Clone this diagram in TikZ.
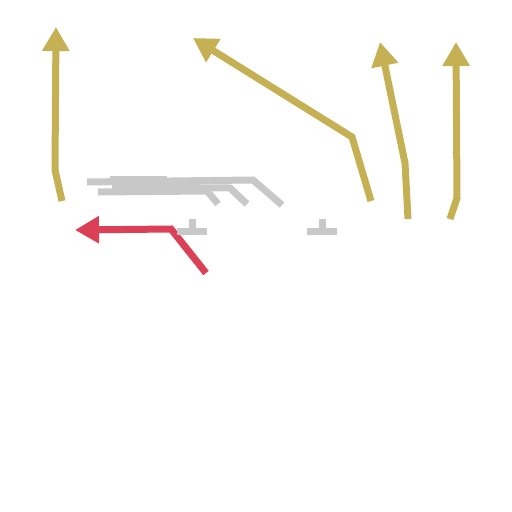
\documentclass[tikz,border=0pt]{standalone}
\usepackage{xcolor}
\usetikzlibrary{arrows.meta}

\begin{document}
\begin{tikzpicture}[x=1pt,y=-1pt]
    \definecolor{mygold}{RGB}{197,176,84}
    \definecolor{myred}{RGB}{220,64,86}
    \definecolor{mygray}{RGB}{200,200,200}

    \tikzstyle{route}=[draw=mygold,line width=7pt,-{Triangle[length=24pt,width=26pt]}]  % 路线
    \tikzstyle{hot}=[draw=myred,line width=7pt,-{Triangle[length=24pt,width=26pt]}]
    \tikzstyle{block}=[draw=mygray,line width=7pt]  % 阻挡线
    \tikzstyle{point}=[coordinate]

    \useasboundingbox (0,0) rectangle (512,512);

    % 定义点
    \coordinate (w1) at (62,201);
    \coordinate (w1a) at (55,170);
    \coordinate (w1b) at (56,27);
    \coordinate (w2) at (371,201);
    \coordinate (w2a) at (352,137);
    \coordinate (w2b) at (193,38);
    \coordinate (w3) at (408,219);
    \coordinate (w3a) at (405,163);
    \coordinate (w3b) at (380,42);
    \coordinate (w4) at (450,219);
    \coordinate (w4a) at (457,198);
    \coordinate (w4b) at (456,42);
    \coordinate (rb) at (206,273);
    \coordinate (rba) at (171,229);
    \coordinate (rbb) at (75,230);

    % 开始画线
    \draw[route](w1)--(w1a)--(w1b);
    \draw[route](w2)--(w2a)--(w2b);
    \draw[route](w3)--(w3a)--(w3b);
    \draw[route](w4)--(w4a)--(w4b);
    \draw[hot](rb)--(rba)--(rbb);

    \draw[block](87,182)--(253,180)--(282,205);
    \draw[block](98,192)--(207,191)--(218,204);
    \draw[block](112,187)--(230,188)--(247,204);
    \draw[block](110,179)--(167,179);
    \draw[block](177,231)--(207,231);
    \draw[block](192,219)--(192,231);
    \draw[block](307,231)--(337,231);
    \draw[block](322,219)--(322,231);
\end{tikzpicture}
\end{document}
